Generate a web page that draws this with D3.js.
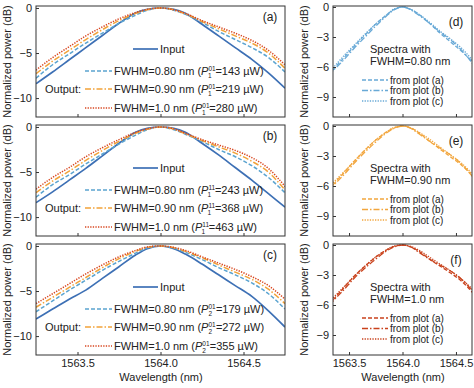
<!DOCTYPE html>
<html>
<head>
<meta charset="utf-8">
<title>spectra</title>
<script src="https://d3js.org/d3.v7.min.js"></script>
<style>
  body { margin: 0; background: #fff; }
  text { font-family: "Liberation Sans", Arial, sans-serif; fill: #222; }
</style>
</head>
<body>
<svg width="474" height="388"></svg>
<script>
// wavelength samples (nm)
var wl = [1563.25, 1563.35, 1563.45, 1563.55, 1563.65, 1563.75, 1563.85, 1563.92, 1564.0,
          1564.08, 1564.15, 1564.25, 1564.35, 1564.45, 1564.55, 1564.65, 1564.75];

// plot (a)
var inA  = [-8.4, -7.1, -5.75, -4.4, -3.05, -1.7, -0.55, -0.15, 0, -0.15, -0.6, -1.8, -3.1, -4.4, -5.7, -7.2, -8.9];
var a08  = [-7.8, -6.3, -5.1, -3.9, -2.8, -1.7, -0.8, -0.25, 0, -0.25, -0.7, -1.6, -2.6, -3.5, -4.4, -5.5, -7.1];
var a09  = [-7.3, -5.9, -4.7, -3.5, -2.4, -1.4, -0.6, -0.2, 0, -0.2, -0.65, -1.5, -2.3, -3.1, -3.9, -5.0, -6.7];
var a10  = [-6.9, -5.5, -4.3, -3.1, -2.1, -1.2, -0.5, -0.15, 0, -0.2, -0.6, -1.4, -2.1, -2.8, -3.6, -4.7, -6.3];
// plot (b)
var inB  = [-8.4, -7.2, -5.9, -4.6, -3.2, -1.8, -0.6, -0.15, 0, -0.15, -0.6, -1.8, -3.1, -4.5, -5.9, -7.4, -8.9];
var b08  = [-7.8, -6.4, -5.3, -4.1, -3.0, -1.9, -0.9, -0.3, 0, -0.3, -0.8, -1.6, -2.5, -3.3, -4.3, -5.6, -7.3];
var b09  = [-7.3, -6.0, -4.9, -3.7, -2.6, -1.6, -0.7, -0.25, 0, -0.25, -0.75, -1.5, -2.2, -2.9, -3.8, -5.0, -7.0];
var b10  = [-6.9, -5.6, -4.5, -3.3, -2.3, -1.4, -0.6, -0.2, 0, -0.2, -0.7, -1.4, -2.0, -2.6, -3.4, -4.6, -6.6];
// plot (c)
var inC  = [-8.1, -7.0, -5.9, -4.9, -3.6, -2.3, -1.0, -0.3, 0, -0.3, -0.9, -2.0, -3.2, -4.4, -5.6, -7.2, -9.0];
var c08  = [-7.3, -6.1, -4.9, -3.8, -2.7, -1.7, -0.8, -0.2, 0, -0.25, -0.7, -1.5, -2.4, -3.2, -4.1, -5.3, -7.0];
var c09  = [-6.8, -5.7, -4.6, -3.5, -2.4, -1.4, -0.6, -0.15, 0, -0.2, -0.6, -1.3, -2.1, -2.9, -3.7, -4.8, -6.4];
var c10  = [-6.4, -5.3, -4.2, -3.1, -2.1, -1.2, -0.5, -0.1, 0, -0.15, -0.5, -1.2, -1.9, -2.6, -3.4, -4.4, -5.9];

var xTicks = [1563.5, 1564.0, 1564.5];
var yTicksL = [0, -5, -10];
var yTicksR = [0, -3, -6, -9];
var fwhmLabels = ["0.80", "0.90", "1.0"];

var svg = d3.select("svg");
var fmtX = d3.format(".1f");

var sty = [
  {color: "#5ba4d0", dash: "4,2"},
  {color: "#f2a33a", dash: "6,2,1.5,2"},
  {color: "#d8461f", dash: "1.3,1.3"}
];

var left = [
  {top: 6,   name: "(a)", input: inA, out: [a08, a09, a10], sub: "1", sup: "01", p: ["143", "219", "280"], lab: false},
  {top: 125, name: "(b)", input: inB, out: [b08, b09, b10], sub: "1", sup: "11", p: ["243", "368", "463"], lab: false},
  {top: 244, name: "(c)", input: inC, out: [c08, c09, c10], sub: "2", sup: "01", p: ["179", "272", "355"], lab: true}
];

var right = [
  {top: 6,   name: "(d)", color: "#68a9d6", k: 0},
  {top: 125, name: "(e)", color: "#f2a63e", k: 1},
  {top: 244, name: "(f)", color: "#c9421c", k: 2}
];

var H = 111;

function frame(g, x, y, yt, showLab) {
  g.append("g").attr("transform", "translate(0," + (y.range()[0]) + ")")
    .call(d3.axisBottom(x).tickValues(xTicks).tickSize(-3).tickSizeOuter(0).tickPadding(4)
      .tickFormat(showLab ? fmtX : ""))
    .call(function(a) { a.select(".domain").remove(); a.selectAll("text").style("font-size", "11px"); a.selectAll("line").attr("stroke", "#333"); });
  g.append("g").attr("transform", "translate(" + x.range()[0] + ",0)")
    .call(d3.axisLeft(y).tickValues(yt).tickSize(-3).tickSizeOuter(0).tickPadding(4).tickFormat(d3.format("d")))
    .call(function(a) { a.select(".domain").remove(); a.selectAll("text").style("font-size", "11px"); a.selectAll("line").attr("stroke", "#333"); });
  g.append("rect")
    .attr("x", x.range()[0]).attr("y", y.range()[1])
    .attr("width", x.range()[1] - x.range()[0]).attr("height", y.range()[0] - y.range()[1])
    .attr("fill", "none").attr("stroke", "#333").attr("stroke-width", 1);
}

function curveLine(x, y) {
  return d3.line().x(function(d, i) { return x(wl[i]); }).y(function(d) { return y(d); })
    .curve(d3.curveMonotoneX);
}

// ---- left column ----
left.forEach(function(p, pi) {
  var g = svg.append("g");
  var x = d3.scaleLinear().domain([1563.25, 1564.75]).range([36, 285]);
  var y = d3.scaleLinear().domain([-12.1, 0.22]).range([p.top + H, p.top]);
  var cid = "clipL" + pi;
  svg.append("clipPath").attr("id", cid).append("rect")
    .attr("x", 36).attr("y", p.top).attr("width", 249).attr("height", H);
  var line = curveLine(x, y);
  var cg = g.append("g").attr("clip-path", "url(#" + cid + ")");
  cg.append("path").attr("d", line(p.input)).attr("fill", "none")
    .attr("stroke", "#3d70b5").attr("stroke-width", 1.7);
  p.out.forEach(function(s, i) {
    cg.append("path").attr("d", line(s)).attr("fill", "none")
      .attr("stroke", sty[i].color).attr("stroke-width", 1.5).attr("stroke-dasharray", sty[i].dash);
  });
  frame(g, x, y, yTicksL, p.lab);

  g.append("text").attr("x", 270).attr("y", p.top + 15).attr("text-anchor", "middle")
    .style("font-size", "12px").text(p.name);

  // legend
  g.append("line").attr("x1", 133).attr("x2", 158).attr("y1", p.top + 43).attr("y2", p.top + 43)
    .attr("stroke", "#3d70b5").attr("stroke-width", 1.7);
  g.append("text").attr("x", 160).attr("y", p.top + 47).style("font-size", "11px").text("Input");
  g.append("text").attr("x", 45).attr("y", p.top + 87).style("font-size", "11px").text("Output:");
  var ly = [65, 83, 102];
  fwhmLabels.forEach(function(f, i) {
    var yy = p.top + ly[i];
    g.append("line").attr("x1", 85).attr("x2", 112).attr("y1", yy).attr("y2", yy)
      .attr("stroke", sty[i].color).attr("stroke-width", 1.5).attr("stroke-dasharray", sty[i].dash);
    var t = g.append("text").attr("x", 114).attr("y", yy + 4).style("font-size", "11px");
    t.append("tspan").text("FWHM=" + f + " nm (");
    t.append("tspan").style("font-style", "italic").text("P");
    t.append("tspan").attr("dy", -4).style("font-size", "6.5px").text(p.sup);
    t.append("tspan").attr("dx", -7.2).attr("dy", 7).style("font-size", "6.5px").text(p.sub);
    t.append("tspan").attr("dx", 3.8).attr("dy", -3).text("=" + p.p[i] + " \u00b5W)");
  });

  g.append("text").attr("transform", "translate(11," + (p.top + H / 2) + ") rotate(-90)")
    .attr("text-anchor", "middle").style("font-size", "11px").text("Normalized power (dB)");
});

// ---- right column ----
right.forEach(function(p, pi) {
  var g = svg.append("g");
  var x = d3.scaleLinear().domain([1563.35, 1564.65]).range([333, 472]);
  var y = d3.scaleLinear().domain([-11, 0.1]).range([p.top + H, p.top]);
  var cid = "clipR" + pi;
  svg.append("clipPath").attr("id", cid).append("rect")
    .attr("x", 333).attr("y", p.top).attr("width", 139).attr("height", H);
  var line = curveLine(x, y);
  var cg = g.append("g").attr("clip-path", "url(#" + cid + ")");
  left.forEach(function(lp, i) {
    cg.append("path").attr("d", line(lp.out[p.k])).attr("fill", "none")
      .attr("stroke", p.color).attr("stroke-width", 1.3).attr("stroke-dasharray", sty[i].dash);
  });
  frame(g, x, y, yTicksR, pi === 2);

  g.append("text").attr("x", 456).attr("y", p.top + 20).attr("text-anchor", "middle")
    .style("font-size", "12px").text(p.name);
  g.append("text").attr("x", 370).attr("y", p.top + 47).style("font-size", "11px").text("Spectra with");
  g.append("text").attr("x", 370).attr("y", p.top + 59).style("font-size", "11px")
    .text("FWHM=" + fwhmLabels[p.k] + " nm");
  var ly = [74, 84.5, 95];
  ["(a)", "(b)", "(c)"].forEach(function(s, i) {
    var yy = p.top + ly[i];
    g.append("line").attr("x1", 362).attr("x2", 388).attr("y1", yy).attr("y2", yy)
      .attr("stroke", p.color).attr("stroke-width", 1.3).attr("stroke-dasharray", sty[i].dash);
    g.append("text").attr("x", 390).attr("y", yy + 3.5).style("font-size", "10px").text("from plot " + s);
  });

  g.append("text").attr("transform", "translate(308," + (p.top + H / 2) + ") rotate(-90)")
    .attr("text-anchor", "middle").style("font-size", "11px").text("Normalized power (dB)");
});

svg.append("text").attr("x", 161).attr("y", 381).attr("text-anchor", "middle")
  .style("font-size", "11px").text("Wavelength (nm)");
svg.append("text").attr("x", 403).attr("y", 381).attr("text-anchor", "middle")
  .style("font-size", "11px").text("Wavelength (nm)");
</script>
</body>
</html>
